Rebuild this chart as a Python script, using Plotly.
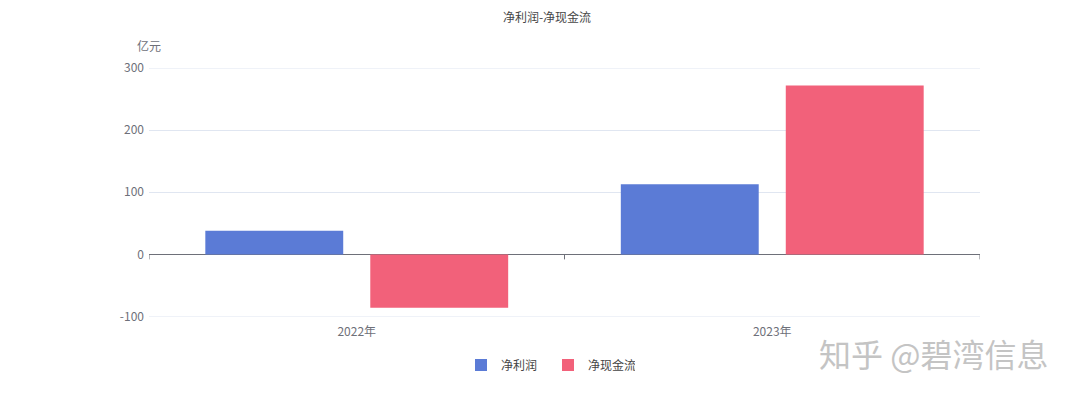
import plotly.graph_objects as go

categories = ["2022年", "2023年"]
series_names = ["净利润", "净现金流"]
net_profit = [38, 113]
net_cash_flow = [-86, 272]
y_ticks = [-100, 0, 100, 200, 300]
y_tick_text = ["-100", "0", "100", "200", "300"]
colors = ["#5b7bd6", "#f2617a"]

FONT = "Noto Sans CJK SC, Microsoft YaHei, sans-serif"
AXIS_COLOR = "#6E7079"
GRID_COLOR = "#E0E6F1"

# page body has an 8px margin, so the figure is offset by 8px
OFF = 8
W, H = 1080 - OFF, 400 - OFF
ML, MR, MT, MB = 149 - OFF, 100, 68 - OFF, 82
PW, PH = W - ML - MR, H - MT - MB


def px_to_paper(px, py):
    # px, py in screenshot coordinates
    return (px - OFF - ML) / PW, (H - MB - (py - OFF)) / PH


fig = go.Figure()
for name, vals, col in zip(series_names, [net_profit, net_cash_flow], colors):
    fig.add_trace(go.Bar(x=categories, y=vals, name=name, marker=dict(color=col, line=dict(width=0))))

# gridlines at the range edges (plotly hides them at the plot border)
for yv in [y_ticks[0], y_ticks[-1]]:
    fig.add_shape(type="line", xref="paper", yref="y", x0=0, x1=1, y0=yv, y1=yv,
                  layer="below", line=dict(color=GRID_COLOR, width=1))

# tick marks on the zero axis at category boundaries
for xv in [-0.5, 0.5, 1.5]:
    fig.add_shape(type="line", xref="x", yref="y", x0=xv, x1=xv,
                  ysizemode="pixel", yanchor=0, y0=0, y1=-5,
                  line=dict(color=AXIS_COLOR, width=1))

fig.update_layout(
    width=W, height=H,
    margin=dict(l=ML, r=MR, t=MT, b=MB),
    paper_bgcolor="white", plot_bgcolor="white",
    font=dict(family=FONT, size=12, color=AXIS_COLOR),
    barmode="group", bargap=0.206, bargroupgap=0.164,
    title=dict(text="净利润-净现金流", x=(547 - OFF) / W, xref="container", xanchor="center",
               y=1 - (18 - OFF) / H, yref="container", yanchor="middle",
               font=dict(size=12, color="#464646", family=FONT)),
    showlegend=True,
    legend=dict(orientation="h", xref="container", yref="container",
                x=(548 - OFF) / W, xanchor="center", y=1 - (365 - OFF) / H, yanchor="middle",
                font=dict(size=12, color="#444444"), itemsizing="constant",
                itemwidth=30, entrywidth=42, entrywidthmode="pixels",
                traceorder="normal"),
    xaxis=dict(showgrid=False, showline=False, ticks="", zeroline=False,
               tickfont=dict(size=12, color=AXIS_COLOR), range=[-0.5, 1.5],
               ticklabelstandoff=6),
    yaxis=dict(range=[-100, 300], tickvals=y_ticks, ticktext=y_tick_text,
               showgrid=True, gridcolor=GRID_COLOR,
               gridwidth=1, zeroline=True, zerolinecolor=AXIS_COLOR, zerolinewidth=1,
               showline=False, ticks="", tickfont=dict(size=12, color=AXIS_COLOR),
               ticklabelstandoff=4),
)

fig.add_annotation(text="亿元", xref="paper", yref="paper", x=0, y=1, xanchor="center",
                   yanchor="bottom", yshift=12, showarrow=False,
                   font=dict(size=12, color=AXIS_COLOR, family=FONT))

wx, wy = px_to_paper(1050, 355)
fig.add_annotation(text="知乎 @碧湾信息", xref="paper", yref="paper",
                   x=wx, y=wy, xanchor="right", yanchor="middle",
                   showarrow=False, font=dict(size=32, color="#c4c4c4", family=FONT))

fig.write_html("out.html")
